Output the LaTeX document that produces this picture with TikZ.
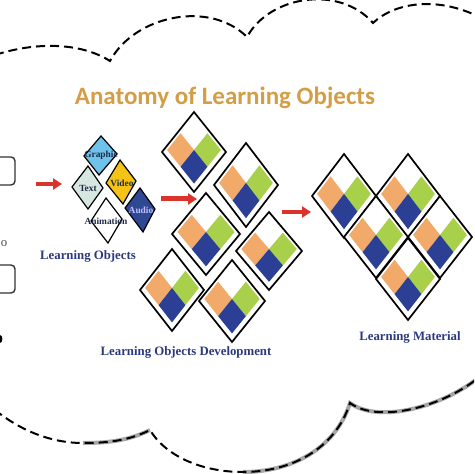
\documentclass[tikz,border=0pt]{standalone}
\usepackage{fontspec}
\setmainfont{Liberation Serif}
\newfontfamily\titlefont{Carlito}
\usetikzlibrary{arrows.meta}
\definecolor{titlegold}{HTML}{D39E45}
\definecolor{navy}{HTML}{2B3A7E}
\definecolor{tileorange}{HTML}{F2AA6B}
\definecolor{tilegreen}{HTML}{A9D04A}
\definecolor{tileblue}{HTML}{2B3F94}
\definecolor{arrowred}{HTML}{D9332B}
\definecolor{loblue}{HTML}{6EC3EC}
\definecolor{logray}{HTML}{D6E6E0}
\definecolor{logold}{HTML}{F4C316}
\definecolor{lodark}{HTML}{2F4894}
\definecolor{lotext}{HTML}{1F2A44}
\tikzset{
  tile/.pic={
    \draw[line width=0.85pt, fill=white] (-1,0) -- (0,-1) -- (1,0) -- (0,1) -- cycle;
    \fill[tileorange] (-0.84,-0.05) -- (-0.42,-0.47) -- (0,-0.05) -- (-0.42,0.37) -- cycle;
    \fill[tilegreen] (0,-0.05) -- (0.42,-0.47) -- (0.84,-0.05) -- (0.42,0.37) -- cycle;
    \fill[tileblue] (-0.42,0.37) -- (0,-0.05) -- (0.42,0.37) -- (0,0.79) -- cycle;
  },
  cloudline/.style={draw=black, line width=1pt, dash pattern=on 4.5pt off 2.5pt},
  cloudshadow/.style={draw=gray!70, line width=2pt},
  redarrow/.style={draw=arrowred, line width=2.1pt, -{Triangle[length=4.5pt,width=5.5pt]}},
  lodiamond/.style={draw=black, line width=0.6pt},
  lolabel/.style={font=\fontsize{4.7pt}{5.5pt}\selectfont\bfseries, text=lotext, inner sep=0pt},
  grouplabel/.style={font=\fontsize{6.4pt}{7.5pt}\selectfont\bfseries, text=navy, anchor=base, inner sep=0pt},
  edgebox/.style={draw=black!80, line width=0.7pt, rounded corners=2pt},
}
\begin{document}
\begin{tikzpicture}[x=0.5pt, y=-0.5pt]
\useasboundingbox (0,0) rectangle (474,474);
\clip (0,0) rectangle (474,474);
\fill[white] (0,0) rectangle (474,474);

% cloud outline
\draw[cloudline] (-5,55) .. controls (35,42) and (80,42) .. (110,61)
  .. controls (135,15) and (210,0) .. (247,37)
  .. controls (270,-5) and (340,-15) .. (373,23)
  .. controls (395,2) and (440,-5) .. (485,20);
\draw[cloudshadow] (485,372) .. controls (450,405) and (380,425) .. (350,403)
  .. controls (335,450) and (290,472) .. (243,472);
\draw[cloudshadow] (150,430) .. controls (130,440) and (110,443) .. (83,443);
\draw[cloudline] (485,372) .. controls (450,405) and (380,425) .. (350,403)
  .. controls (335,450) and (290,472) .. (243,472)
  .. controls (200,472) and (165,455) .. (150,430)
  .. controls (130,440) and (110,443) .. (83,443)
  .. controls (50,443) and (20,430) .. (-5,410);

% partial items at the left edge
\draw[edgebox] (-3,157) -- (15,157) -- (15,185) -- (-3,185);
\draw[edgebox] (-3,265) -- (15,265) -- (15,293) -- (-3,293);
\node[font=\fontsize{6.4pt}{7.5pt}\selectfont, text=black!70, inner sep=0pt, anchor=west] (edgeo) at (0.5,244) {o};
\fill[black] (0,339) ellipse [x radius=1.2pt, y radius=2pt];

% title
\node[font=\titlefont\fontsize{12.5pt}{14pt}\selectfont\bfseries, text=titlegold, anchor=base, inner sep=0pt] (title) at (225,105) {Anatomy of Learning Objects};

% learning objects (small diamonds)
\draw[lodiamond, fill=loblue] (101,136) -- (117,154) -- (99,175) -- (84,156) -- cycle;
\draw[lodiamond, fill=logray] (88,166) -- (103,188) -- (88,209) -- (72,187) -- cycle;
\draw[lodiamond, fill=logold] (120,160) -- (136,181) -- (123,204) -- (106,183) -- cycle;
\draw[lodiamond, fill=white] (106,198) -- (122,219) -- (108,243) -- (91,221) -- cycle;
\draw[lodiamond, fill=lodark] (140,188) -- (155,209) -- (143,232) -- (125,208) -- cycle;
\node[lolabel] (graphic) at (101,155) {Graphic};
\node[lolabel] (text) at (88,188) {Text};
\node[lolabel] (video) at (122,183) {Video};
\node[lolabel, text=blue!25!white] (audio) at (141,210) {Audio};
\node[lolabel] (animation) at (106,221) {Animation};
\node[grouplabel] (lolab) at (88,260) {Learning Objects};

% learning objects development
\pic[xscale=32, yscale=40] at (194,152) {tile};
\pic[xscale=32, yscale=42] at (246,185) {tile};
\pic[xscale=34, yscale=41] at (206,234) {tile};
\pic[xscale=33, yscale=39] at (269,251) {tile};
\pic[xscale=32, yscale=41] at (172,290) {tile};
\pic[xscale=33, yscale=41] at (232,301) {tile};
\node[grouplabel] (lodlab) at (186,355) {Learning Objects Development};

% learning material
\pic[xscale=32, yscale=42] at (344,196) {tile};
\pic[xscale=32, yscale=42] at (408,196) {tile};
\pic[xscale=32, yscale=41] at (376,237) {tile};
\pic[xscale=32, yscale=41] at (440,237) {tile};
\pic[xscale=32, yscale=41] at (408,279) {tile};
\node[grouplabel] (lmlab) at (410,340) {Learning Material};

% arrows
\coordinate (a1s) at (36,184);
\coordinate (a1e) at (62,184);
\coordinate (a2s) at (161,199);
\coordinate (a2e) at (197,199);
\coordinate (a3s) at (282,212);
\coordinate (a3e) at (311,212);
\draw[redarrow] (a1s) -- (a1e);
\draw[redarrow, line width=2.5pt] (a2s) -- (a2e);
\draw[redarrow] (a3s) -- (a3e);
\end{tikzpicture}
\end{document}
